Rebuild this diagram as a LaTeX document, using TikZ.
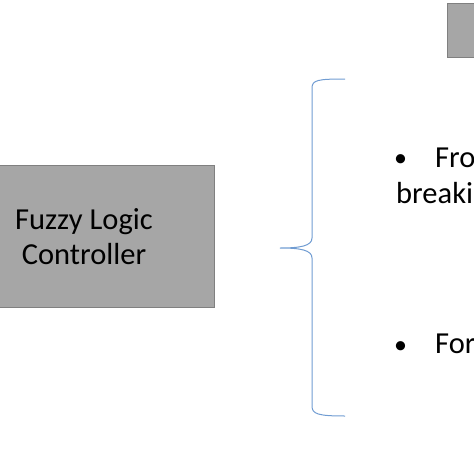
\documentclass[tikz,border=0pt]{standalone}
\usepackage{fontspec}
\setmainfont{Carlito}
\usetikzlibrary{positioning}
\definecolor{boxgray}{RGB}{166,166,166}
\definecolor{boxline}{RGB}{128,128,128}
\definecolor{braceblue}{RGB}{112,156,210}

\begin{document}
\begin{tikzpicture}[x=1pt,y=-1pt,
  block/.style={rectangle,draw=boxline,fill=boxgray,line width=0.8pt,inner sep=0pt},
  lbl/.style={font=\fontsize{30.5}{35}\selectfont,align=center,inner sep=0pt},
  txt/.style={font=\fontsize{30.5}{35}\selectfont,anchor=base west,inner sep=0pt},
  bul/.style={font=\fontsize{26}{30}\selectfont,anchor=base west,inner sep=0pt},
  brace/.style={draw=braceblue,line width=1pt}
]
\useasboundingbox (0,0) rectangle (474,474);
\clip (0,0) rectangle (474,474);
\node[block,minimum width=260pt,minimum height=142pt] (flc) at (84,236) {};
\node[lbl] (flctext) at (84,237) {Fuzzy Logic\\Controller};
\node[block,minimum width=60pt,minimum height=54pt,anchor=north west] (topbox) at (447,3) {};
\coordinate (btop) at (345,79);
\coordinate (btip) at (280,248);
\coordinate (bbot) at (345,416);
\draw[brace] (btop) .. controls (318,79) and (312,80) .. (312,88) -- (312,238)
  .. controls (312,246) and (300,248) .. (btip)
  .. controls (300,248) and (312,250) .. (312,258) -- (312,406)
  .. controls (312,414) and (318,416) .. (bbot);
\node[bul] (dot1) at (394,166) {•};
\node[txt] (item1) at (435,167) {Fro};
\node[txt] (item1b) at (396,203) {breaki};
\node[bul] (dot2) at (394,353) {•};
\node[txt] (item2) at (435,353) {For};
\end{tikzpicture}
\end{document}
